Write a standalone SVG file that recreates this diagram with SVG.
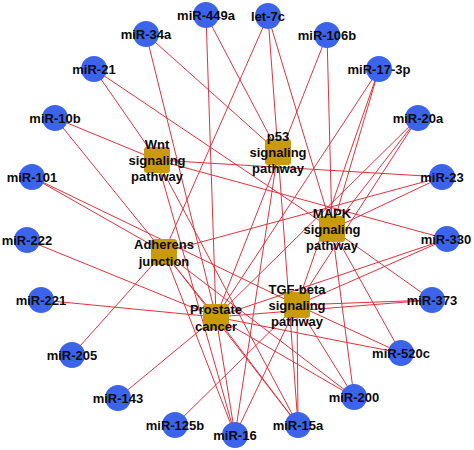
<svg xmlns="http://www.w3.org/2000/svg" width="474" height="450" viewBox="0 0 474 450">
<style>
.e line{stroke:#e2323c;stroke-width:1;fill:none}
.m circle{fill:#3b64eb}
.p rect{fill:#c99a0c}
text{font-family:"Liberation Sans",Arial,sans-serif;font-weight:bold;font-size:13px;fill:#0a0a0a;text-anchor:middle}
</style>
<rect width="474" height="450" fill="#fff"/>
<g id="edges" class="e">
<line x1="206" y1="15" x2="216" y2="317"/>
<line x1="206" y1="15" x2="278" y2="152"/>
<line x1="146" y1="34" x2="216" y2="317"/>
<line x1="146" y1="34" x2="278" y2="152"/>
<line x1="268" y1="16" x2="164" y2="252"/>
<line x1="268" y1="16" x2="278" y2="152"/>
<line x1="268" y1="16" x2="332" y2="229"/>
<line x1="327" y1="35" x2="216" y2="317"/>
<line x1="327" y1="35" x2="332" y2="229"/>
<line x1="379" y1="69" x2="216" y2="317"/>
<line x1="379" y1="69" x2="332" y2="229"/>
<line x1="379" y1="69" x2="297" y2="305"/>
<line x1="418" y1="118" x2="216" y2="317"/>
<line x1="418" y1="118" x2="332" y2="229"/>
<line x1="418" y1="118" x2="297" y2="305"/>
<line x1="442" y1="177" x2="157" y2="160"/>
<line x1="442" y1="177" x2="164" y2="252"/>
<line x1="442" y1="177" x2="332" y2="229"/>
<line x1="447" y1="239" x2="157" y2="160"/>
<line x1="447" y1="239" x2="216" y2="317"/>
<line x1="447" y1="239" x2="297" y2="305"/>
<line x1="432" y1="300" x2="297" y2="305"/>
<line x1="432" y1="300" x2="216" y2="317"/>
<line x1="432" y1="300" x2="332" y2="229"/>
<line x1="401" y1="353" x2="332" y2="229"/>
<line x1="401" y1="353" x2="297" y2="305"/>
<line x1="401" y1="353" x2="216" y2="317"/>
<line x1="354" y1="397" x2="332" y2="229"/>
<line x1="354" y1="397" x2="297" y2="305"/>
<line x1="354" y1="397" x2="216" y2="317"/>
<line x1="354" y1="397" x2="164" y2="252"/>
<line x1="298" y1="425" x2="297" y2="305"/>
<line x1="298" y1="425" x2="278" y2="152"/>
<line x1="298" y1="425" x2="216" y2="317"/>
<line x1="298" y1="425" x2="164" y2="252"/>
<line x1="298" y1="425" x2="157" y2="160"/>
<line x1="235" y1="435" x2="164" y2="252"/>
<line x1="235" y1="435" x2="157" y2="160"/>
<line x1="235" y1="435" x2="216" y2="317"/>
<line x1="235" y1="435" x2="297" y2="305"/>
<line x1="235" y1="435" x2="278" y2="152"/>
<line x1="175" y1="425" x2="297" y2="305"/>
<line x1="118" y1="398" x2="216" y2="317"/>
<line x1="72" y1="355" x2="164" y2="252"/>
<line x1="41" y1="300" x2="216" y2="317"/>
<line x1="27" y1="240" x2="216" y2="317"/>
<line x1="32" y1="177" x2="164" y2="252"/>
<line x1="32" y1="177" x2="297" y2="305"/>
<line x1="55" y1="118" x2="157" y2="160"/>
<line x1="55" y1="118" x2="216" y2="317"/>
<line x1="94" y1="69" x2="332" y2="229"/>
<line x1="94" y1="69" x2="157" y2="160"/>
</g>
<g id="miR-449a" class="m"><circle cx="206" cy="15" r="13"/><text x="206" y="20">miR-449a</text></g>
<g id="let-7c" class="m"><circle cx="268" cy="16" r="13"/><text x="268" y="21">let-7c</text></g>
<g id="miR-34a" class="m"><circle cx="146" cy="34" r="13"/><text x="146" y="39">miR-34a</text></g>
<g id="miR-106b" class="m"><circle cx="327" cy="35" r="13"/><text x="327" y="40">miR-106b</text></g>
<g id="miR-21" class="m"><circle cx="94" cy="69" r="13"/><text x="94" y="74">miR-21</text></g>
<g id="miR-17-3p" class="m"><circle cx="379" cy="69" r="13"/><text x="379" y="74">miR-17-3p</text></g>
<g id="miR-10b" class="m"><circle cx="55" cy="118" r="13"/><text x="55" y="123">miR-10b</text></g>
<g id="miR-20a" class="m"><circle cx="418" cy="118" r="13"/><text x="418" y="123">miR-20a</text></g>
<g id="miR-101" class="m"><circle cx="32" cy="177" r="13"/><text x="32" y="182">miR-101</text></g>
<g id="miR-23" class="m"><circle cx="442" cy="177" r="13"/><text x="442" y="182">miR-23</text></g>
<g id="miR-222" class="m"><circle cx="27" cy="240" r="13"/><text x="27" y="245">miR-222</text></g>
<g id="miR-330" class="m"><circle cx="447" cy="239" r="13"/><text x="446" y="244">miR-330</text></g>
<g id="miR-221" class="m"><circle cx="41" cy="300" r="13"/><text x="41" y="305">miR-221</text></g>
<g id="miR-373" class="m"><circle cx="432" cy="300" r="13"/><text x="432" y="305">miR-373</text></g>
<g id="miR-205" class="m"><circle cx="72" cy="355" r="13"/><text x="72" y="360">miR-205</text></g>
<g id="miR-520c" class="m"><circle cx="401" cy="353" r="13"/><text x="401" y="358">miR-520c</text></g>
<g id="miR-143" class="m"><circle cx="118" cy="398" r="13"/><text x="118" y="403">miR-143</text></g>
<g id="miR-200" class="m"><circle cx="354" cy="397" r="13"/><text x="354" y="402">miR-200</text></g>
<g id="miR-125b" class="m"><circle cx="175" cy="425" r="13"/><text x="175" y="430">miR-125b</text></g>
<g id="miR-15a" class="m"><circle cx="298" cy="425" r="13"/><text x="298" y="430">miR-15a</text></g>
<g id="miR-16" class="m"><circle cx="235" cy="435" r="13"/><text x="235" y="440">miR-16</text></g>
<g id="wnt" class="p"><rect x="144" y="147" width="26" height="26" rx="3"/><text x="157" y="149">Wnt</text><text x="157" y="165">signaling</text><text x="157" y="181">pathway</text></g>
<g id="p53" class="p"><rect x="265" y="139" width="26" height="26" rx="3"/><text x="278" y="141">p53</text><text x="278" y="157">signaling</text><text x="278" y="173">pathway</text></g>
<g id="mapk" class="p"><rect x="319" y="216" width="26" height="26" rx="3"/><text x="332" y="218">MAPK</text><text x="332" y="234">signaling</text><text x="332" y="250">pathway</text></g>
<g id="adherens" class="p"><rect x="151" y="239" width="26" height="26" rx="3"/><text x="164" y="249">Adherens</text><text x="164" y="266">junction</text></g>
<g id="prostate" class="p"><rect x="203" y="304" width="26" height="26" rx="3"/><text x="216" y="314">Prostate</text><text x="216" y="331">cancer</text></g>
<g id="tgf" class="p"><rect x="284" y="292" width="26" height="26" rx="3"/><text x="297" y="294">TGF-beta</text><text x="297" y="310">signaling</text><text x="297" y="326">pathway</text></g>
</svg>
